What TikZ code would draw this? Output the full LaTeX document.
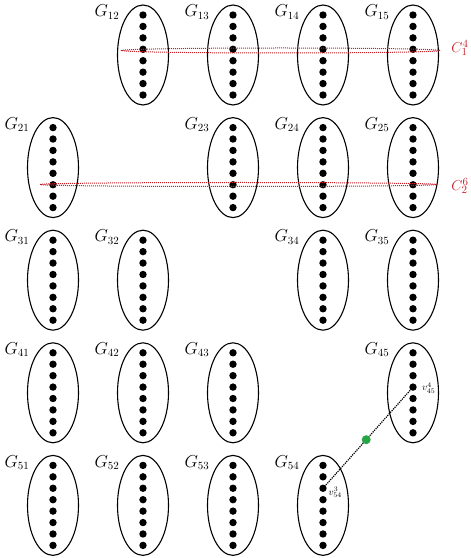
\documentclass[tikz,border=0pt]{standalone}
\usetikzlibrary{shapes.geometric}
\definecolor{cred}{RGB}{200,30,40}
\definecolor{cgreen}{RGB}{40,165,70}
\begin{document}
\begin{tikzpicture}[x=1pt,y=1pt,
  grp/.style={draw,ellipse,line width=1.1pt,minimum width=51pt,minimum height=100pt,inner sep=0pt},
  vdot/.style={circle,fill,inner sep=0pt,minimum size=7.4pt},
  glabel/.style={font=\fontsize{16}{18}\selectfont,inner sep=0pt},
  cyc/.style={draw=cred,densely dotted,line width=1pt,ellipse,inner sep=0pt},
  clabel/.style={text=cred,font=\fontsize{15}{17}\selectfont,inner sep=0pt},
  vlabel/.style={font=\fontsize{10}{11}\selectfont,inner sep=0pt,anchor=west},
  link/.style={densely dotted,line width=1.2pt},
  gdot/.style={circle,fill=cgreen,inner sep=0pt,minimum size=9pt}]
\useasboundingbox (0,0) rectangle (471,558);
\foreach \rr/\cc in {1/2,1/3,1/4,1/5,2/1,2/3,2/4,2/5,3/1,3/2,3/4,3/5,4/1,4/2,4/3,4/5,5/1,5/2,5/3,5/4}{
  \pgfmathsetmacro\cx{53+90*(\cc-1)}
  \pgfmathsetmacro\cy{558-55-112.6*(\rr-1)}
  \node[grp] (g\rr\cc) at ({\cx},{\cy}) {};
  \node[glabel] (l\rr\cc) at ({\cx-36},{\cy+43}) {$G_{\rr\cc}$};
  \foreach \k in {1,...,8}{
    \pgfmathsetmacro\dy{\cy+40-11.43*(\k-1)}
    \node[vdot] (d\rr\cc-\k) at ({\cx},{\dy}) {};
  }
}
% red cycles
\node[cyc,minimum width=318pt,minimum height=5pt] (c1) at (281,507.5) {};
\node[clabel] (c1l) at (460,510) {$C_1^4$};
\node[cyc,minimum width=397pt,minimum height=4pt] (c2) at (238.5,373.5) {};
\node[clabel] (c2l) at (460,372) {$C_2^6$};
% link
\draw[link] (d45-4.center) -- node[pos=0.52,gdot] (gp) {} (d54-3.center);
\node[vlabel,xshift=5pt,yshift=-1pt] (v45) at (d45-4.east) {$v_{45}^4$};
\node[vlabel,xshift=1.5pt,yshift=-4pt] (v54) at (d54-3.east) {$v_{54}^3$};
\end{tikzpicture}
\end{document}
